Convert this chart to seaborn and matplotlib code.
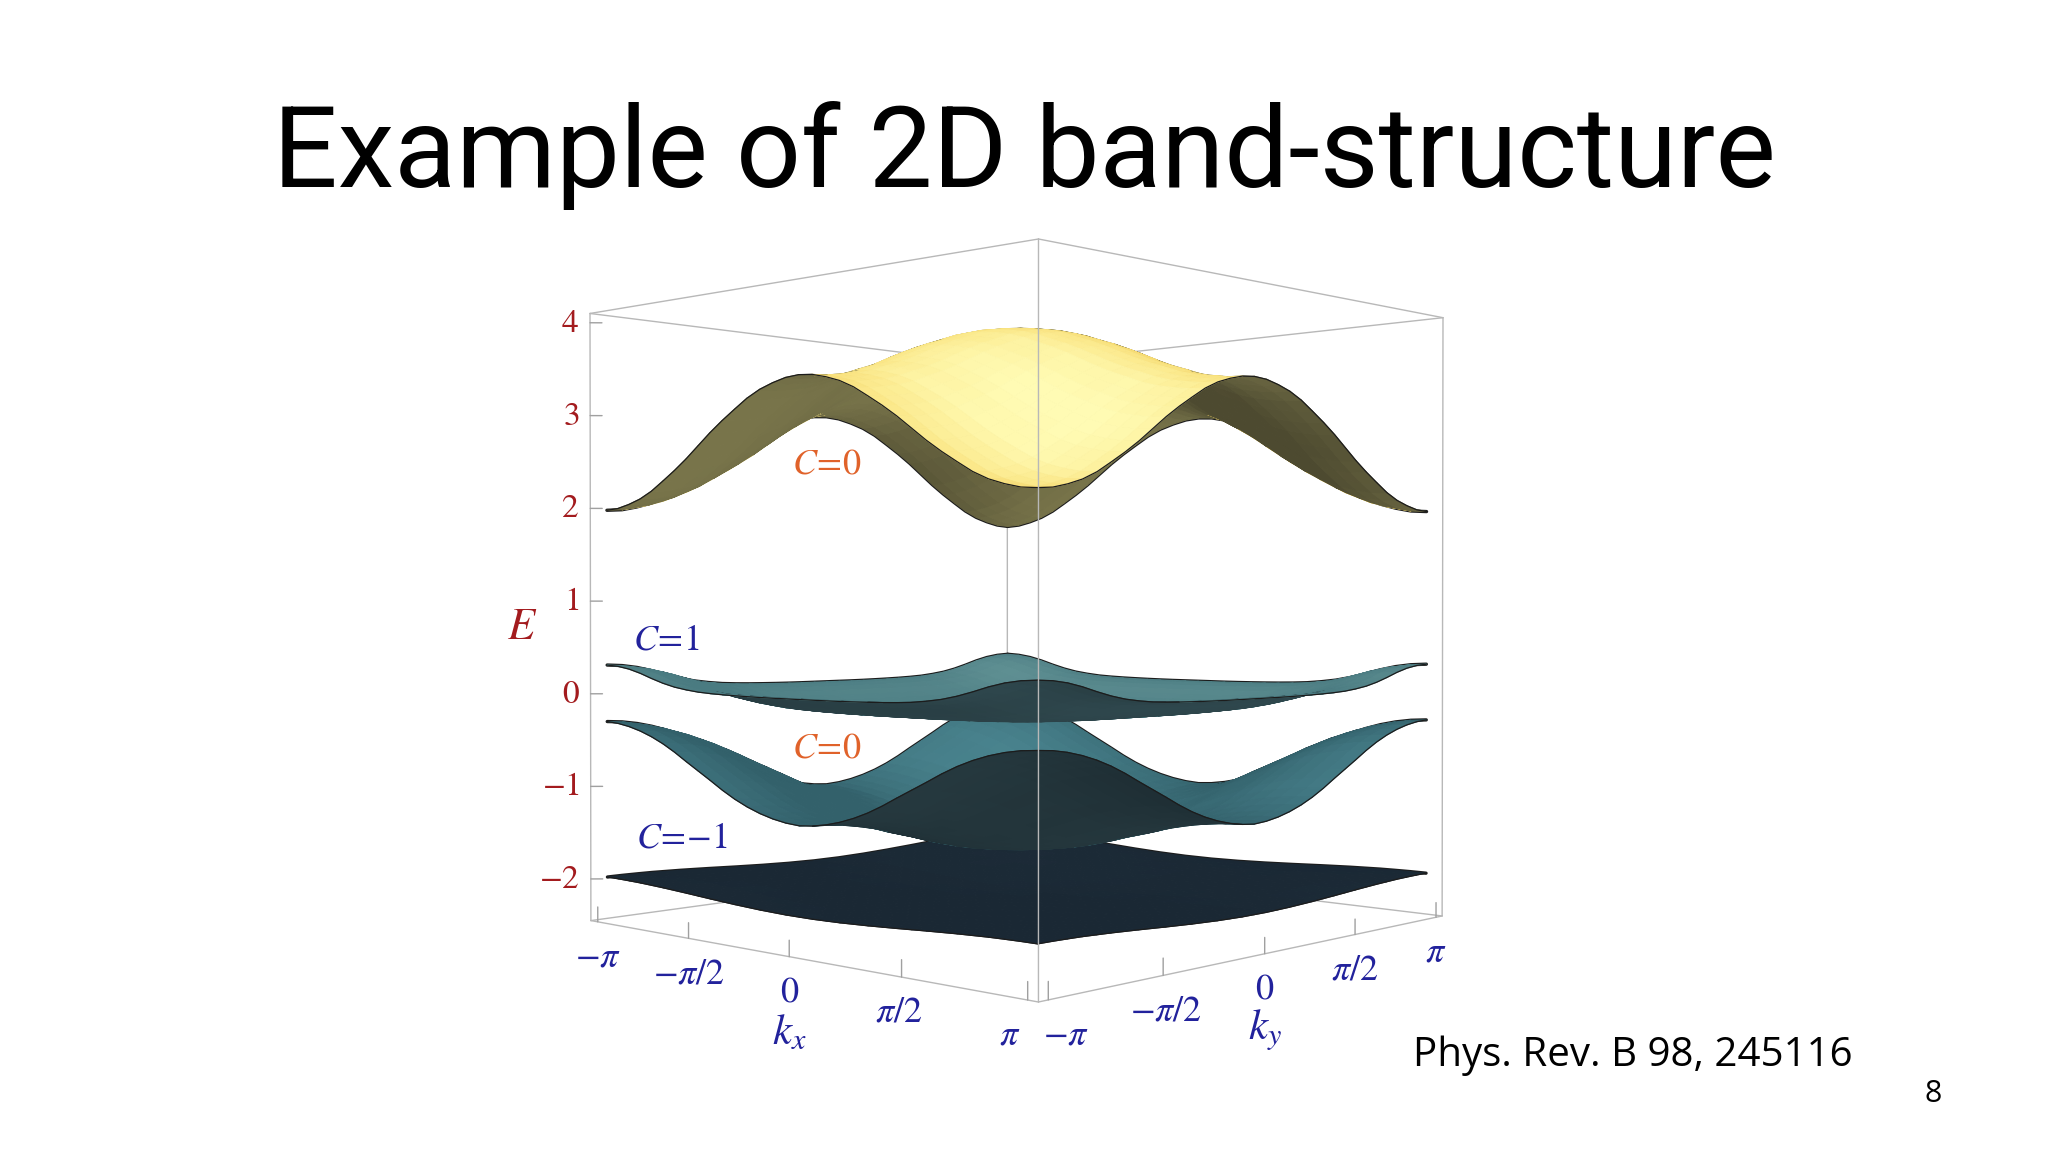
import numpy as np
import matplotlib
matplotlib.use("Agg")
import matplotlib.pyplot as plt
import seaborn as sns
from mpl_toolkits.mplot3d import proj3d

# ---- band data ----------------------------------------------------------
# k grid in units of pi (steps of pi/16); E(kx, ky) = p(kx) + p(ky) + twist * s(kx) * s(ky)
k_pi = [-1, -0.9375, -0.875, -0.8125, -0.75, -0.6875, -0.625, -0.5625, -0.5,
        -0.4375, -0.375, -0.3125, -0.25, -0.1875, -0.125, -0.0625, 0,
        0.0625, 0.125, 0.1875, 0.25, 0.3125, 0.375, 0.4375, 0.5,
        0.5625, 0.625, 0.6875, 0.75, 0.8125, 0.875, 0.9375, 1]
k_shape = [-1, -0.98, -0.92, -0.83, -0.71, -0.56, -0.38, -0.20, 0,
           0.20, 0.38, 0.56, 0.71, 0.83, 0.92, 0.98, 1,
           0.98, 0.92, 0.83, 0.71, 0.56, 0.38, 0.20, 0,
           -0.20, -0.38, -0.56, -0.71, -0.83, -0.92, -0.98, -1]
top_band = [1.05, 1.06, 1.09, 1.13, 1.19, 1.27, 1.35, 1.44, 1.54,
            1.64, 1.73, 1.81, 1.89, 1.95, 1.99, 2.02, 2.03,
            2.02, 1.99, 1.95, 1.89, 1.81, 1.73, 1.64, 1.54,
            1.44, 1.35, 1.27, 1.19, 1.13, 1.09, 1.06, 1.05]
upper_mid_band = [0.155, 0.145, 0.12, 0.08, 0.03, -0.015, -0.05, -0.073, -0.09,
                  -0.099, -0.105, -0.109, -0.112, -0.114, -0.115, -0.115, -0.115,
                  -0.115, -0.115, -0.114, -0.112, -0.109, -0.105, -0.099, -0.09,
                  -0.073, -0.05, -0.015, 0.03, 0.08, 0.12, 0.145, 0.155]
lower_mid_band = [-0.20, -0.21, -0.23, -0.26, -0.30, -0.35, -0.41, -0.48, -0.545,
                  -0.61, -0.68, -0.74, -0.79, -0.83, -0.86, -0.88, -0.89,
                  -0.88, -0.86, -0.83, -0.79, -0.74, -0.68, -0.61, -0.545,
                  -0.48, -0.41, -0.35, -0.30, -0.26, -0.23, -0.21, -0.20]
bottom_band = [-0.99, -0.991, -0.994, -0.998, -1.005, -1.012, -1.021, -1.03, -1.04,
               -1.05, -1.059, -1.068, -1.075, -1.082, -1.086, -1.09, -1.09,
               -1.09, -1.086, -1.082, -1.075, -1.068, -1.059, -1.05, -1.04,
               -1.03, -1.021, -1.012, -1.005, -0.998, -0.994, -0.991, -0.99]
twists = [0.0, 0.10, 0.0, -0.12]          # bottom, lower mid, upper mid, top
chern_labels = [r"$C\!=\!0$", r"$C\!=\!1$", r"$C\!=\!0$", r"$C\!=\!{-}1$"]

e_ticks = [-2, -1, 0, 1, 2, 3, 4]
k_ticks_pi = [-1, -0.5, 0, 0.5, 1]
k_tick_labels = [r"$-\pi$", r"$-\pi/2$", r"$0$", r"$\pi/2$", r"$\pi$"]

# ---- style --------------------------------------------------------------
sns.set_theme(style="white")
plt.rcParams["font.family"] = ["Roboto", "DejaVu Sans"]
plt.rcParams["mathtext.fontset"] = "stix"

RED = "#a31b1e"
BLUE = "#22229c"
ORANGE = "#e0622a"
BOXC = "#b8b8b8"
TICKC = "#a0a0a0"
EDGEC = "#1c1c1c"

W, H = 2048, 1152
fig = plt.figure(figsize=(W / 100, H / 100), dpi=100)
fig.patch.set_facecolor("white")

fig.text(0.5, (H - 187) / H, "Example of 2D band-structure", ha="center",
         va="baseline", fontsize=82, color="black")
fig.text(1413 / W, (H - 1066) / H, "Phys. Rev. B 98, 245116", ha="left",
         va="baseline", fontsize=29, family=["Open Sans", "DejaVu Sans"],
         color="black")
fig.text(1933 / W, (H - 1102) / H, "8", ha="center", va="baseline",
         fontsize=22, family=["Open Sans", "DejaVu Sans"], color="black")

# ---- 3d axes ------------------------------------------------------------
ELEV, AZIM, FOCAL = 0.4, -47.0, 0.37
kpad = 0.02 * 2 * np.pi
klim = (-np.pi - kpad, np.pi + kpad)
zlim = (-2.45, 4.1)

ax = fig.add_axes([0.2, 0.1, 0.6, 0.8], projection="3d", computed_zorder=False)
ax.set_axis_off()
ax.set_xlim(klim)
ax.set_ylim(klim)
ax.set_zlim(zlim)
ax.view_init(elev=ELEV, azim=AZIM)
ax.set_proj_type("persp", focal_length=FOCAL)

corners = np.array([[x, y, z] for x in klim for y in klim for z in zlim])


def to_px(pts3):
    M = ax.get_proj()
    px, py, _ = proj3d.proj_transform(pts3[:, 0], pts3[:, 1], pts3[:, 2], M)
    return ax.transData.transform(np.column_stack([px, py]))


# fit the frame onto the region it covers in the slide
tx0, tx1, ty0, ty1 = 590, 1443, H - 1002, H - 239
S, cxp, cyp, hz = 1000.0, 1016.0, H - 620.0, 1.0
for _ in range(10):
    ax.set_box_aspect((1, 1, hz))
    ax.set_position([(cxp - S / 2) / W, (cyp - S / 2) / H, S / W, S / H])
    fig.canvas.draw()
    pts = to_px(corners)
    w = pts[:, 0].max() - pts[:, 0].min()
    h = pts[:, 1].max() - pts[:, 1].min()
    hz *= ((ty1 - ty0) / (tx1 - tx0)) / (h / w)
    S *= (tx1 - tx0) / w
    cxp += (tx0 + tx1) / 2 - (pts[:, 0].min() + pts[:, 0].max()) / 2
    cyp += (ty0 + ty1) / 2 - (pts[:, 1].min() + pts[:, 1].max()) / 2
ax.set_box_aspect((1, 1, hz))
ax.set_position([(cxp - S / 2) / W, (cyp - S / 2) / H, S / W, S / H])

# viewing geometry for the two-sided shading
aspect = np.array([1.0, 1.0, hz])
box = aspect * 1.8294640721620434 * 25 / 24 / np.linalg.norm(aspect)
el, az = np.radians(ELEV), np.radians(AZIM)
ps = np.array([np.cos(el) * np.cos(az), np.cos(el) * np.sin(az), np.sin(el)])
eye_w = 0.5 * box + 10 * FOCAL * ps
right = np.array([-np.sin(az), np.cos(az), 0.0])
toward = np.array([np.cos(az), np.sin(az), 0.0])
up = np.array([0.0, 0.0, 1.0])
L_lit = toward + 0.35 * up - 0.2 * right
L_lit /= np.linalg.norm(L_lit)
L_dark = -up + 0.5 * right + 0.3 * toward
L_dark /= np.linalg.norm(L_dark)

k = np.pi * np.array(k_pi)
KX, KY = np.meshgrid(k, k)
shape = np.array(k_shape)


def shade_band(Z, lit, dark):
    span = klim[1] - klim[0]
    P = np.stack([(KX - klim[0]) / span * box[0],
                  (KY - klim[0]) / span * box[1],
                  (Z - zlim[0]) / (zlim[1] - zlim[0]) * box[2]], axis=-1)
    d1 = P[1:, 1:] - P[:-1, :-1]
    d2 = P[:-1, 1:] - P[1:, :-1]
    n = np.cross(d1, d2)
    n *= np.sign(n[..., 2])[..., None]
    n /= np.linalg.norm(n, axis=-1, keepdims=True)
    c = (P[1:, 1:] + P[:-1, :-1] + P[:-1, 1:] + P[1:, :-1]) / 4
    top = ((eye_w - c) * n).sum(-1) > 0
    nv = np.where(top[..., None], n, -n)
    s_lit = np.clip((nv @ L_lit - 0.3) / 0.5, 0, 1)
    s_dark = np.clip((nv @ L_dark - 0.55) / 0.45, 0, 1)
    lit_cmap = sns.blend_palette(lit, as_cmap=True)
    dark_cmap = sns.blend_palette(dark, as_cmap=True)
    col = np.where(top[..., None], lit_cmap(s_lit), dark_cmap(s_dark))
    fc = np.ones(Z.shape + (4,))
    fc[:-1, :-1] = col
    return fc


bands = [
    (bottom_band, ["#1a2834", "#233643"], ["#131d25", "#1c2a33"], 2),
    (lower_mid_band, ["#33616b", "#4d8994"], ["#18262c", "#26393f"], 3),
    (upper_mid_band, ["#4a7b81", "#6a9a9c"], ["#1f3035", "#30494f"], 4),
    (top_band, ["#f1cf5e", "#fbe88a", "#fffbb4"], ["#4d4a30", "#78744a"], 5),
]

# back edges of the frame (behind the bands)
x0, x1 = klim
z0, z1 = zlim
back = [((x0, x0), (x1, x1), (z0, z1)),
        ((x0, x0), (x0, x1), (z1, z1)), ((x0, x1), (x1, x1), (z1, z1)),
        ((x0, x0), (x0, x1), (z0, z0)), ((x0, x1), (x1, x1), (z0, z0))]
front = [((x0, x0), (x0, x0), (z0, z1)), ((x1, x1), (x0, x0), (z0, z1)),
         ((x1, x1), (x1, x1), (z0, z1)),
         ((x0, x1), (x0, x0), (z1, z1)), ((x1, x1), (x0, x1), (z1, z1)),
         ((x0, x1), (x0, x0), (z0, z0)), ((x1, x1), (x0, x1), (z0, z0))]
for xs, ys, zs in back:
    ax.plot(xs, ys, zs, color=BOXC, lw=1.0, zorder=1)

for (prof, lit, dark, zo), tw in zip(bands, twists):
    p = np.array(prof)
    Z = p[None, :] + p[:, None] + tw * shape[None, :] * shape[:, None]
    fc = shade_band(Z, lit, dark)
    # far boundary of the sheet sits under it, so the sheet hides it where it overlaps
    ax.plot(np.full_like(k, k[0]), k, Z[:, 0], color=EDGEC, lw=2.4, zorder=zo - 0.2)
    ax.plot(k, np.full_like(k, k[-1]), Z[-1, :], color=EDGEC, lw=2.4, zorder=zo - 0.2)
    ax.plot_surface(KX, KY, Z, facecolors=fc, shade=False, rstride=1, cstride=1,
                    linewidth=0.8, antialiased=True, zorder=zo)
    # near boundary on top
    ax.plot(k, np.full_like(k, k[0]), Z[0, :], color=EDGEC, lw=0.9, zorder=zo + 0.5)
    ax.plot(np.full_like(k, k[-1]), k, Z[:, -1], color=EDGEC, lw=0.9, zorder=zo + 0.5)

for xs, ys, zs in front:
    ax.plot(xs, ys, zs, color=BOXC, lw=1.0, zorder=8)

# tick marks
tick_len = 0.16
for e in e_ticks:
    ax.plot((x0, x0 + 0.09), (x0, x0 + 0.09), (e, e), color=TICKC, lw=1.0, zorder=8)
for kp in k_ticks_pi:
    kv = np.pi * kp
    ax.plot((kv, kv), (x0, x0), (z0, z0 + tick_len), color=TICKC, lw=1.0, zorder=8)
    ax.plot((x1, x1), (kv, kv), (z0, z0 + tick_len), color=TICKC, lw=1.0, zorder=8)

ax.set_xlim(klim)
ax.set_ylim(klim)
ax.set_zlim(zlim)
fig.canvas.draw()


def label(x, y, z, s, dx, dy, **kw):
    X, Y = to_px(np.array([[x, y, z]], float))[0]
    fig.text((X + dx * 100 / 72) / W, (Y + dy * 100 / 72) / H, s, **kw)


# energy axis labels
for e in e_ticks:
    label(x0, x0, e, rf"${e}$", -8, 0, ha="right", va="center", fontsize=24, color=RED)
label(x0, x0, 0.72, r"$E$", -49, 0, ha="center", va="center", fontsize=32, color=RED)

# momentum axis labels
kx_dx = [0, 0, 0, -2, -13]
ky_dx = [13, 2, 0, 0, 0]
for kp, lab, dxa, dxb in zip(k_ticks_pi, k_tick_labels, kx_dx, ky_dx):
    kv = np.pi * kp
    label(kv, x0, z0, lab, dxa, -25, ha="center", va="center", fontsize=26, color=BLUE)
    label(x1, kv, z0, lab, dxb, -25, ha="center", va="center", fontsize=26, color=BLUE)
label(0, x0, z0, r"$k_x$", 0, -55, ha="center", va="center", fontsize=31, color=BLUE)
label(x1, 0, z0, r"$k_y$", 0, -55, ha="center", va="center", fontsize=31, color=BLUE)

# Chern numbers
label_pos = [(827, 464), (666, 640), (827, 747), (682, 838)]
label_col = [ORANGE, BLUE, ORANGE, BLUE]
for lab, (px, py), c in zip(chern_labels, label_pos, label_col):
    fig.text(px / W, (H - py) / H, lab, ha="center", va="center", fontsize=26, color=c)

fig.savefig("out.png", dpi=100, facecolor="white")
